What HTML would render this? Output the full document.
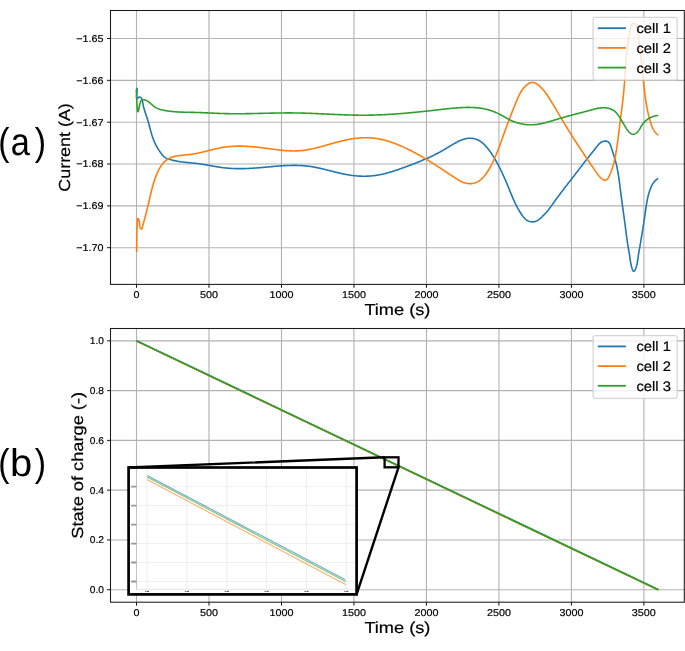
<!DOCTYPE html>
<html><head><meta charset="utf-8"><style>
html,body{margin:0;padding:0;background:#fff;}
body{width:685px;height:651px;overflow:hidden;}
svg{display:block;}
text{font-family:"Liberation Sans", sans-serif;fill:#000;text-rendering:geometricPrecision;}
.tk{font-size:9.9px;stroke:#000;stroke-width:0.18px;}
.al{font-size:16px;stroke:#000;stroke-width:0.2px;}
.lg{font-size:13.8px;stroke:#000;stroke-width:0.2px;}
.pl{font-size:38.5px;}
</style></head><body>
<svg width="685" height="651" viewBox="0 0 685 651" style="will-change:transform">
<rect width="685" height="651" fill="#fff"/>
<path d="M136.50,10.50V284.40 M208.99,10.50V284.40 M281.47,10.50V284.40 M353.95,10.50V284.40 M426.44,10.50V284.40 M498.92,10.50V284.40 M571.41,10.50V284.40 M643.89,10.50V284.40 M110.50,38.50H684.30 M110.50,80.35H684.30 M110.50,122.20H684.30 M110.50,164.00H684.30 M110.50,205.90H684.30 M110.50,247.70H684.30" stroke="#b2b2b2" stroke-width="1.1" fill="none"/>
<g fill="none" stroke-width="1.60" stroke-linejoin="round" stroke-linecap="butt">
<path d="M136.50,88.20 136.99,88.18 137.12,88.77 137.15,89.37 137.14,89.96 137.11,90.56 137.06,91.16 137.01,91.76 136.96,92.36 136.90,92.95 136.85,93.55 136.79,94.15 136.73,94.75 136.68,95.34 136.64,95.94 136.61,96.54 136.59,97.14 136.60,97.74 136.69,98.33 137.08,98.67 137.53,98.29 137.94,97.85 138.39,97.45 138.92,97.18 139.52,97.11 140.10,97.23 140.64,97.49 141.10,97.88 141.47,98.35 141.76,98.87 142.00,99.42 142.18,99.99 142.34,100.57 142.47,101.16 142.59,101.74 142.69,102.34 142.79,102.93 142.89,103.52 142.99,104.11 143.11,104.70 143.22,105.29 143.35,105.87 143.48,106.46 143.63,107.04 143.77,107.62 143.93,108.20 144.09,108.78 144.26,109.35 144.43,109.93 144.60,110.50 144.78,111.07 144.97,111.64 145.16,112.21 145.35,112.78 145.54,113.35 145.73,113.92 145.93,114.49 146.12,115.05 146.32,115.62 146.51,116.19 146.70,116.76 146.89,117.33 147.07,117.90 147.25,118.47 147.43,119.04 147.60,119.62 147.77,120.19 147.94,120.77 148.11,121.34 148.27,121.92 148.43,122.50 148.59,123.08 148.75,123.65 148.90,124.23 149.06,124.81 149.21,125.39 149.36,125.97 149.52,126.55 149.67,127.13 149.83,127.71 149.98,128.29 150.14,128.87 150.29,129.45 150.45,130.03 150.61,130.61 150.77,131.18 150.93,131.76 151.09,132.34 151.26,132.91 151.43,133.49 151.60,134.06 151.78,134.64 151.95,135.21 152.14,135.78 152.32,136.35 152.51,136.92 152.71,137.49 152.91,138.05 153.11,138.62 153.32,139.18 153.53,139.74 153.75,140.30 153.98,140.85 154.21,141.41 154.45,141.96 154.69,142.51 154.94,143.05 155.20,143.59 155.46,144.13 155.72,144.67 156.00,145.20 156.27,145.74 156.56,146.26 156.85,146.79 157.14,147.31 157.44,147.83 157.75,148.35 158.06,148.86 158.38,149.37 158.70,149.87 159.03,150.38 159.36,150.87 159.70,151.37 160.04,151.86 160.39,152.35 160.74,152.84 161.10,153.32 161.46,153.79 161.83,154.26 162.22,154.73 162.61,155.18 163.02,155.62 163.44,156.04 163.88,156.45 164.34,156.84 164.81,157.20 165.31,157.54 165.82,157.85 166.35,158.14 166.89,158.40 167.44,158.63 168.00,158.85 168.56,159.05 169.13,159.24 169.71,159.42 170.28,159.59 170.86,159.76 171.43,159.92 172.01,160.07 172.60,160.22 173.18,160.36 173.76,160.50 174.35,160.63 174.93,160.76 175.52,160.88 176.11,161.00 176.70,161.11 177.29,161.22 177.88,161.32 178.47,161.42 179.06,161.51 179.66,161.60 180.25,161.69 180.84,161.77 181.44,161.86 182.03,161.93 182.63,162.01 183.22,162.08 183.82,162.15 184.41,162.22 185.01,162.29 185.61,162.35 186.20,162.41 186.80,162.47 187.39,162.53 187.99,162.59 188.59,162.65 189.19,162.71 189.78,162.76 190.38,162.82 190.98,162.88 191.57,162.93 192.17,162.99 192.77,163.05 193.36,163.11 193.96,163.17 194.56,163.23 195.15,163.29 195.75,163.35 196.35,163.42 196.94,163.49 197.54,163.55 198.13,163.63 198.73,163.70 199.32,163.78 199.92,163.86 200.51,163.94 201.11,164.02 201.70,164.11 202.29,164.20 202.88,164.30 203.48,164.39 204.07,164.49 204.66,164.59 205.25,164.69 205.84,164.79 206.43,164.90 207.02,165.00 207.61,165.11 208.20,165.22 208.79,165.32 209.38,165.43 209.97,165.54 210.56,165.65 211.15,165.76 211.74,165.87 212.33,165.98 212.92,166.08 213.51,166.19 214.10,166.30 214.69,166.40 215.28,166.51 215.87,166.61 216.46,166.71 217.05,166.81 217.65,166.91 218.24,167.00 218.83,167.10 219.42,167.19 220.02,167.28 220.61,167.36 221.20,167.44 221.80,167.52 222.39,167.60 222.99,167.67 223.58,167.75 224.18,167.81 224.78,167.88 225.37,167.94 225.97,168.00 226.57,168.06 227.16,168.12 227.76,168.17 228.36,168.22 228.96,168.27 229.55,168.31 230.15,168.35 230.75,168.39 231.35,168.43 231.95,168.46 232.55,168.50 233.15,168.52 233.74,168.55 234.34,168.57 234.94,168.60 235.54,168.61 236.14,168.63 236.74,168.64 237.34,168.66 237.94,168.66 238.54,168.67 239.14,168.67 239.74,168.68 240.34,168.67 240.94,168.67 241.54,168.67 242.14,168.66 242.74,168.65 243.34,168.64 243.94,168.62 244.54,168.60 245.14,168.59 245.74,168.57 246.34,168.54 246.93,168.52 247.53,168.49 248.13,168.47 248.73,168.44 249.33,168.41 249.93,168.37 250.53,168.34 251.13,168.31 251.73,168.27 252.32,168.23 252.92,168.19 253.52,168.15 254.12,168.11 254.72,168.07 255.31,168.02 255.91,167.98 256.51,167.93 257.11,167.89 257.71,167.84 258.30,167.79 258.90,167.74 259.50,167.69 260.10,167.64 260.69,167.59 261.29,167.54 261.89,167.49 262.49,167.43 263.08,167.38 263.68,167.33 264.28,167.27 264.88,167.22 265.47,167.17 266.07,167.11 266.67,167.06 267.27,167.01 267.86,166.95 268.46,166.90 269.06,166.84 269.65,166.79 270.25,166.74 270.85,166.68 271.45,166.63 272.04,166.58 272.64,166.53 273.24,166.47 273.84,166.42 274.43,166.37 275.03,166.32 275.63,166.27 276.23,166.23 276.82,166.18 277.42,166.13 278.02,166.09 278.62,166.04 279.22,166.00 279.81,165.95 280.41,165.91 281.01,165.87 281.61,165.83 282.21,165.80 282.81,165.76 283.41,165.72 284.00,165.69 284.60,165.66 285.20,165.63 285.80,165.60 286.40,165.57 287.00,165.54 287.60,165.52 288.20,165.50 288.80,165.48 289.40,165.46 290.00,165.44 290.60,165.43 291.20,165.42 291.79,165.41 292.39,165.40 292.99,165.39 293.59,165.39 294.19,165.39 294.79,165.39 295.39,165.40 295.99,165.40 296.59,165.41 297.19,165.42 297.79,165.44 298.39,165.46 298.99,165.48 299.59,165.50 300.19,165.53 300.79,165.55 301.39,165.59 301.99,165.62 302.58,165.66 303.18,165.70 303.78,165.75 304.38,165.79 304.98,165.85 305.57,165.90 306.17,165.96 306.77,166.02 307.36,166.09 307.96,166.16 308.55,166.23 309.15,166.30 309.74,166.38 310.34,166.47 310.93,166.56 311.52,166.65 312.11,166.74 312.71,166.84 313.30,166.94 313.89,167.04 314.48,167.15 315.07,167.26 315.66,167.38 316.24,167.49 316.83,167.61 317.42,167.73 318.01,167.85 318.59,167.98 319.18,168.11 319.76,168.24 320.35,168.37 320.93,168.50 321.52,168.64 322.10,168.77 322.69,168.91 323.27,169.05 323.85,169.19 324.43,169.33 325.02,169.48 325.60,169.62 326.18,169.76 326.76,169.91 327.34,170.06 327.93,170.20 328.51,170.35 329.09,170.50 329.67,170.65 330.25,170.79 330.83,170.94 331.41,171.09 331.99,171.24 332.58,171.38 333.16,171.53 333.74,171.68 334.32,171.82 334.90,171.97 335.48,172.11 336.07,172.26 336.65,172.40 337.23,172.54 337.81,172.68 338.40,172.82 338.98,172.96 339.57,173.10 340.15,173.23 340.73,173.36 341.32,173.50 341.91,173.62 342.49,173.75 343.08,173.88 343.66,174.00 344.25,174.12 344.84,174.24 345.43,174.35 346.02,174.47 346.61,174.58 347.20,174.68 347.79,174.79 348.38,174.89 348.97,174.99 349.56,175.08 350.16,175.17 350.75,175.26 351.34,175.34 351.94,175.42 352.53,175.50 353.13,175.57 353.72,175.64 354.32,175.71 354.92,175.77 355.51,175.82 356.11,175.88 356.71,175.93 357.31,175.97 357.90,176.02 358.50,176.06 359.10,176.09 359.70,176.12 360.30,176.15 360.90,176.17 361.50,176.19 362.10,176.20 362.70,176.21 363.30,176.22 363.90,176.22 364.50,176.22 365.10,176.21 365.70,176.20 366.29,176.19 366.89,176.17 367.49,176.15 368.09,176.12 368.69,176.09 369.29,176.06 369.89,176.02 370.49,175.98 371.08,175.93 371.68,175.88 372.28,175.82 372.88,175.76 373.47,175.69 374.07,175.63 374.66,175.55 375.26,175.47 375.85,175.39 376.44,175.31 377.04,175.22 377.63,175.12 378.22,175.02 378.81,174.92 379.40,174.81 379.99,174.70 380.58,174.58 381.17,174.46 381.75,174.33 382.34,174.21 382.92,174.07 383.51,173.94 384.09,173.80 384.67,173.65 385.25,173.51 385.83,173.36 386.41,173.20 386.99,173.05 387.57,172.89 388.15,172.72 388.73,172.56 389.30,172.39 389.88,172.22 390.45,172.05 391.02,171.87 391.60,171.70 392.17,171.52 392.74,171.34 393.31,171.16 393.88,170.97 394.45,170.78 395.02,170.60 395.59,170.41 396.16,170.22 396.73,170.02 397.30,169.83 397.86,169.64 398.43,169.44 399.00,169.24 399.56,169.05 400.13,168.85 400.69,168.65 401.26,168.45 401.83,168.25 402.39,168.05 402.96,167.85 403.52,167.65 404.08,167.44 404.65,167.24 405.21,167.03 405.78,166.83 406.34,166.62 406.90,166.42 407.46,166.21 408.03,166.00 408.59,165.79 409.15,165.58 409.71,165.37 410.27,165.16 410.83,164.95 411.39,164.73 411.95,164.52 412.51,164.30 413.07,164.09 413.63,163.87 414.19,163.65 414.75,163.44 415.31,163.22 415.87,163.00 416.42,162.78 416.98,162.56 417.54,162.33 418.10,162.11 418.65,161.89 419.21,161.66 419.76,161.43 420.32,161.21 420.87,160.98 421.43,160.75 421.98,160.52 422.53,160.29 423.09,160.06 423.64,159.83 424.19,159.59 424.74,159.36 425.30,159.12 425.85,158.88 426.40,158.64 426.94,158.40 427.49,158.16 428.04,157.92 428.59,157.67 429.13,157.42 429.68,157.17 430.23,156.92 430.77,156.67 431.31,156.42 431.86,156.16 432.40,155.91 432.94,155.65 433.48,155.38 434.02,155.12 434.55,154.86 435.09,154.59 435.63,154.32 436.16,154.05 436.69,153.77 437.23,153.50 437.76,153.22 438.29,152.94 438.82,152.65 439.34,152.37 439.87,152.08 440.39,151.79 440.92,151.49 441.44,151.20 441.96,150.90 442.48,150.60 442.99,150.30 443.51,149.99 444.03,149.69 444.54,149.38 445.06,149.07 445.57,148.76 446.09,148.46 446.60,148.15 447.11,147.84 447.63,147.53 448.14,147.22 448.65,146.91 449.17,146.60 449.68,146.29 450.20,145.98 450.71,145.68 451.23,145.37 451.75,145.07 452.26,144.76 452.78,144.46 453.30,144.16 453.82,143.87 454.34,143.57 454.87,143.28 455.39,142.99 455.92,142.70 456.45,142.42 456.98,142.14 457.51,141.86 458.05,141.59 458.58,141.33 459.13,141.07 459.67,140.82 460.22,140.57 460.77,140.33 461.32,140.11 461.88,139.89 462.44,139.68 463.01,139.48 463.58,139.29 464.15,139.11 464.73,138.95 465.31,138.80 465.89,138.67 466.48,138.55 467.07,138.45 467.67,138.36 468.26,138.29 468.86,138.24 469.46,138.21 470.06,138.20 470.66,138.21 471.26,138.24 471.85,138.29 472.45,138.36 473.04,138.45 473.63,138.56 474.22,138.69 474.80,138.84 475.37,139.01 475.94,139.20 476.51,139.40 477.07,139.62 477.62,139.85 478.16,140.10 478.70,140.37 479.22,140.66 479.74,140.96 480.25,141.28 480.75,141.61 481.24,141.95 481.72,142.31 482.19,142.68 482.66,143.07 483.11,143.46 483.55,143.86 483.99,144.27 484.42,144.69 484.84,145.12 485.25,145.56 485.66,146.00 486.06,146.45 486.45,146.90 486.84,147.35 487.22,147.81 487.60,148.28 487.98,148.74 488.35,149.21 488.72,149.69 489.09,150.16 489.44,150.64 489.80,151.13 490.15,151.61 490.50,152.10 490.85,152.59 491.19,153.08 491.52,153.58 491.86,154.08 492.19,154.58 492.52,155.08 492.84,155.59 493.16,156.09 493.48,156.60 493.79,157.11 494.11,157.62 494.42,158.14 494.72,158.65 495.02,159.17 495.33,159.69 495.62,160.21 495.92,160.73 496.21,161.25 496.50,161.78 496.79,162.30 497.08,162.83 497.37,163.36 497.65,163.89 497.93,164.42 498.21,164.95 498.49,165.48 498.76,166.01 499.03,166.54 499.31,167.08 499.58,167.61 499.85,168.15 500.12,168.69 500.38,169.22 500.65,169.76 500.91,170.30 501.17,170.84 501.43,171.38 501.69,171.92 501.95,172.46 502.21,173.00 502.46,173.55 502.72,174.09 502.97,174.63 503.22,175.18 503.47,175.72 503.72,176.27 503.97,176.81 504.21,177.36 504.46,177.91 504.70,178.46 504.94,179.01 505.18,179.55 505.42,180.10 505.66,180.65 505.90,181.21 506.14,181.76 506.37,182.31 506.61,182.86 506.84,183.41 507.07,183.97 507.30,184.52 507.53,185.07 507.76,185.63 507.99,186.18 508.21,186.74 508.44,187.29 508.66,187.85 508.89,188.41 509.11,188.96 509.34,189.52 509.56,190.07 509.79,190.63 510.01,191.19 510.23,191.74 510.46,192.30 510.69,192.85 510.91,193.41 511.14,193.97 511.37,194.52 511.59,195.07 511.82,195.63 512.05,196.18 512.29,196.73 512.52,197.29 512.76,197.84 512.99,198.39 513.23,198.94 513.47,199.49 513.71,200.04 513.96,200.58 514.21,201.13 514.46,201.68 514.71,202.22 514.96,202.76 515.22,203.30 515.48,203.84 515.75,204.38 516.01,204.92 516.28,205.46 516.56,205.99 516.83,206.52 517.11,207.05 517.40,207.58 517.69,208.11 517.98,208.63 518.27,209.15 518.57,209.67 518.88,210.19 519.18,210.70 519.49,211.22 519.81,211.73 520.13,212.23 520.45,212.74 520.78,213.24 521.12,213.74 521.45,214.23 521.80,214.73 522.14,215.21 522.49,215.70 522.85,216.18 523.22,216.66 523.60,217.12 523.98,217.58 524.38,218.03 524.80,218.46 525.23,218.88 525.67,219.28 526.14,219.66 526.62,220.02 527.12,220.35 527.64,220.65 528.17,220.92 528.73,221.15 529.29,221.35 529.87,221.51 530.45,221.64 531.05,221.74 531.64,221.81 532.24,221.84 532.84,221.84 533.44,221.81 534.03,221.74 534.63,221.64 535.21,221.50 535.78,221.32 536.34,221.11 536.89,220.86 537.42,220.58 537.93,220.27 538.43,219.94 538.92,219.59 539.39,219.22 539.85,218.84 540.31,218.45 540.75,218.04 541.18,217.63 541.61,217.21 542.04,216.79 542.46,216.36 542.89,215.94 543.31,215.51 543.73,215.09 544.15,214.66 544.57,214.23 544.99,213.80 545.40,213.37 545.81,212.93 546.22,212.49 546.62,212.04 547.02,211.60 547.41,211.14 547.80,210.69 548.18,210.22 548.56,209.75 548.92,209.28 549.29,208.80 549.64,208.32 550.00,207.84 550.34,207.35 550.69,206.86 551.04,206.37 551.38,205.88 551.73,205.39 552.07,204.90 552.42,204.41 552.77,203.92 553.12,203.43 553.46,202.94 553.81,202.46 554.16,201.97 554.51,201.48 554.86,201.00 555.22,200.51 555.57,200.02 555.92,199.54 556.27,199.05 556.63,198.57 556.98,198.09 557.34,197.60 557.69,197.12 558.05,196.64 558.41,196.16 558.77,195.68 559.12,195.19 559.48,194.71 559.84,194.23 560.20,193.76 560.56,193.28 560.92,192.80 561.29,192.32 561.65,191.84 562.01,191.36 562.38,190.89 562.74,190.41 563.10,189.93 563.47,189.46 563.83,188.98 564.20,188.51 564.57,188.03 564.93,187.56 565.30,187.08 565.66,186.61 566.03,186.13 566.40,185.66 566.77,185.19 567.13,184.71 567.50,184.24 567.87,183.76 568.24,183.29 568.60,182.82 568.97,182.34 569.34,181.87 569.71,181.40 570.08,180.92 570.44,180.45 570.81,179.98 571.18,179.50 571.55,179.03 571.92,178.55 572.28,178.08 572.65,177.61 573.02,177.13 573.38,176.66 573.75,176.18 574.12,175.71 574.48,175.23 574.85,174.76 575.21,174.28 575.58,173.80 575.94,173.33 576.31,172.85 576.67,172.38 577.04,171.90 577.40,171.42 577.76,170.95 578.13,170.47 578.49,169.99 578.86,169.52 579.22,169.04 579.58,168.56 579.95,168.09 580.31,167.61 580.68,167.13 581.04,166.66 581.41,166.18 581.77,165.71 582.14,165.23 582.50,164.76 582.87,164.28 583.23,163.81 583.60,163.33 583.97,162.86 584.34,162.38 584.70,161.91 585.07,161.44 585.44,160.97 585.81,160.49 586.18,160.02 586.55,159.55 586.93,159.08 587.30,158.61 587.67,158.14 588.05,157.67 588.42,157.20 588.79,156.74 589.17,156.27 589.54,155.80 589.92,155.33 590.30,154.86 590.67,154.40 591.05,153.93 591.42,153.46 591.80,152.99 592.17,152.53 592.55,152.06 592.92,151.59 593.30,151.12 593.67,150.65 594.04,150.18 594.41,149.71 594.79,149.24 595.16,148.77 595.53,148.30 595.89,147.82 596.26,147.35 596.63,146.88 597.00,146.40 597.37,145.93 597.75,145.47 598.14,145.01 598.53,144.56 598.95,144.13 599.37,143.71 599.82,143.30 600.28,142.92 600.77,142.57 601.28,142.25 601.80,141.97 602.35,141.72 602.91,141.51 603.49,141.34 604.07,141.22 604.67,141.13 605.26,141.10 605.86,141.11 606.46,141.18 607.04,141.33 607.60,141.55 608.12,141.84 608.59,142.22 609.01,142.64 609.38,143.11 609.71,143.61 610.01,144.13 610.27,144.67 610.51,145.22 610.73,145.78 610.94,146.34 611.13,146.91 611.31,147.48 611.49,148.05 611.67,148.63 611.85,149.20 612.02,149.77 612.20,150.35 612.38,150.92 612.56,151.49 612.75,152.06 612.93,152.63 613.11,153.20 613.29,153.77 613.48,154.35 613.66,154.92 613.84,155.49 614.02,156.06 614.20,156.63 614.37,157.21 614.55,157.78 614.72,158.35 614.90,158.93 615.06,159.50 615.23,160.08 615.39,160.66 615.55,161.23 615.71,161.81 615.86,162.39 616.01,162.97 616.16,163.56 616.30,164.14 616.44,164.72 616.57,165.31 616.70,165.89 616.83,166.48 616.96,167.06 617.08,167.65 617.20,168.24 617.32,168.83 617.43,169.42 617.54,170.01 617.65,170.59 617.76,171.18 617.86,171.78 617.97,172.37 618.07,172.96 618.16,173.55 618.26,174.14 618.35,174.73 618.45,175.33 618.54,175.92 618.63,176.51 618.71,177.10 618.80,177.70 618.89,178.29 618.97,178.89 619.05,179.48 619.13,180.07 619.21,180.67 619.29,181.26 619.37,181.86 619.45,182.45 619.52,183.05 619.60,183.64 619.68,184.24 619.75,184.83 619.83,185.43 619.90,186.02 619.98,186.62 620.05,187.21 620.12,187.81 620.20,188.40 620.27,189.00 620.35,189.59 620.42,190.19 620.50,190.78 620.57,191.38 620.65,191.97 620.73,192.57 620.80,193.16 620.88,193.76 620.96,194.35 621.03,194.95 621.11,195.54 621.19,196.13 621.27,196.73 621.35,197.32 621.43,197.92 621.51,198.51 621.59,199.11 621.67,199.70 621.75,200.30 621.83,200.89 621.91,201.48 621.99,202.08 622.07,202.67 622.15,203.27 622.23,203.86 622.31,204.46 622.39,205.05 622.47,205.64 622.56,206.24 622.64,206.83 622.72,207.43 622.80,208.02 622.88,208.61 622.96,209.21 623.05,209.80 623.13,210.40 623.21,210.99 623.29,211.58 623.37,212.18 623.45,212.77 623.54,213.37 623.62,213.96 623.70,214.56 623.78,215.15 623.86,215.74 623.94,216.34 624.03,216.93 624.11,217.53 624.19,218.12 624.27,218.71 624.35,219.31 624.43,219.90 624.51,220.50 624.59,221.09 624.67,221.69 624.75,222.28 624.83,222.87 624.91,223.47 624.99,224.06 625.07,224.66 625.15,225.25 625.22,225.85 625.30,226.44 625.38,227.04 625.46,227.63 625.53,228.23 625.61,228.82 625.69,229.42 625.76,230.01 625.84,230.60 625.91,231.20 625.99,231.79 626.07,232.39 626.14,232.98 626.22,233.58 626.29,234.17 626.37,234.77 626.45,235.36 626.52,235.96 626.60,236.55 626.68,237.15 626.76,237.74 626.84,238.34 626.92,238.93 627.00,239.52 627.09,240.12 627.17,240.71 627.25,241.31 627.34,241.90 627.43,242.49 627.52,243.09 627.60,243.68 627.70,244.27 627.79,244.86 627.88,245.46 627.98,246.05 628.08,246.64 628.18,247.23 628.28,247.82 628.38,248.41 628.48,249.00 628.59,249.59 628.69,250.19 628.80,250.78 628.91,251.37 629.01,251.96 629.11,252.55 629.22,253.14 629.32,253.73 629.42,254.32 629.51,254.91 629.61,255.50 629.70,256.10 629.78,256.69 629.86,257.29 629.94,257.88 630.01,258.47 630.09,259.07 630.17,259.66 630.25,260.26 630.34,260.85 630.43,261.44 630.52,262.04 630.63,262.63 630.74,263.22 630.85,263.81 630.98,264.39 631.11,264.98 631.25,265.56 631.39,266.14 631.54,266.72 631.70,267.30 631.87,267.88 632.04,268.45 632.24,269.02 632.45,269.58 632.69,270.13 632.98,270.65 633.37,271.11 633.92,271.26 634.40,270.92 634.76,270.44 635.05,269.91 635.31,269.37 635.55,268.82 635.77,268.26 635.98,267.70 636.17,267.13 636.36,266.56 636.53,265.99 636.70,265.41 636.85,264.83 636.99,264.25 637.12,263.66 637.24,263.08 637.35,262.49 637.45,261.90 637.54,261.30 637.62,260.71 637.70,260.11 637.78,259.52 637.85,258.92 637.93,258.33 638.01,257.74 638.09,257.14 638.18,256.55 638.27,255.96 638.36,255.36 638.45,254.77 638.55,254.18 638.65,253.59 638.75,253.00 638.85,252.40 638.95,251.81 639.05,251.22 639.16,250.63 639.26,250.04 639.36,249.45 639.47,248.86 639.57,248.27 639.68,247.68 639.78,247.09 639.89,246.50 639.99,245.91 640.09,245.32 640.19,244.73 640.30,244.13 640.40,243.54 640.50,242.95 640.60,242.36 640.70,241.77 640.80,241.18 640.90,240.59 641.00,240.00 641.10,239.40 641.20,238.81 641.30,238.22 641.40,237.63 641.49,237.04 641.59,236.45 641.69,235.85 641.79,235.26 641.88,234.67 641.98,234.08 642.07,233.49 642.17,232.89 642.27,232.30 642.36,231.71 642.45,231.12 642.55,230.53 642.64,229.93 642.74,229.34 642.83,228.75 642.92,228.16 643.02,227.56 643.11,226.97 643.20,226.38 643.29,225.79 643.38,225.19 643.47,224.60 643.57,224.01 643.66,223.42 643.75,222.82 643.84,222.23 643.93,221.64 644.02,221.04 644.11,220.45 644.20,219.86 644.28,219.27 644.37,218.67 644.46,218.08 644.55,217.49 644.64,216.89 644.73,216.30 644.81,215.71 644.90,215.11 644.99,214.52 645.07,213.93 645.16,213.33 645.25,212.74 645.33,212.15 645.42,211.55 645.51,210.96 645.59,210.37 645.68,209.77 645.76,209.18 645.85,208.58 645.94,207.99 646.02,207.40 646.11,206.80 646.20,206.21 646.29,205.62 646.38,205.03 646.48,204.43 646.57,203.84 646.67,203.25 646.77,202.66 646.87,202.07 646.98,201.48 647.09,200.89 647.20,200.30 647.32,199.71 647.43,199.12 647.56,198.54 647.68,197.95 647.81,197.36 647.95,196.78 648.09,196.20 648.23,195.61 648.38,195.03 648.54,194.45 648.69,193.88 648.86,193.30 649.03,192.72 649.21,192.15 649.39,191.58 649.58,191.01 649.77,190.44 649.97,189.88 650.18,189.32 650.40,188.76 650.62,188.20 650.85,187.65 651.08,187.09 651.33,186.55 651.58,186.00 651.85,185.47 652.13,184.93 652.42,184.41 652.72,183.89 653.04,183.38 653.37,182.88 653.72,182.40 654.09,181.92 654.47,181.46 654.88,181.02 655.30,180.59 655.74,180.19 656.20,179.80 656.68,179.44 657.17,179.10 657.68,178.78 658.21,178.50" stroke="#1f77b4"/>
<path d="M136.60,252.00 136.62,251.40 136.64,250.80 136.66,250.20 136.67,249.60 136.69,249.00 136.70,248.40 136.71,247.80 136.73,247.20 136.74,246.60 136.75,246.00 136.76,245.40 136.76,244.80 136.77,244.20 136.78,243.60 136.78,243.00 136.79,242.41 136.80,241.81 136.80,241.21 136.81,240.61 136.81,240.01 136.82,239.41 136.82,238.81 136.83,238.21 136.84,237.61 136.84,237.01 136.85,236.41 136.86,235.81 136.87,235.21 136.88,234.61 136.89,234.01 136.90,233.41 136.91,232.81 136.93,232.21 136.94,231.61 136.96,231.01 136.98,230.41 137.00,229.81 137.02,229.21 137.04,228.61 137.07,228.01 137.09,227.41 137.12,226.82 137.15,226.22 137.19,225.62 137.22,225.02 137.26,224.42 137.30,223.82 137.34,223.22 137.39,222.63 137.43,222.03 137.48,221.43 137.54,220.83 137.59,220.24 137.65,219.64 137.72,219.04 137.83,218.45 138.24,218.51 138.54,219.03 138.79,219.58 139.00,220.14 139.17,220.72 139.31,221.30 139.42,221.89 139.50,222.49 139.56,223.08 139.62,223.68 139.66,224.28 139.71,224.88 139.76,225.47 139.83,226.07 139.92,226.66 140.04,227.25 140.23,227.82 140.50,228.36 140.88,228.81 141.42,229.07 141.86,228.73 142.06,228.16 142.23,227.58 142.39,227.01 142.56,226.43 142.72,225.85 142.88,225.28 143.04,224.70 143.20,224.12 143.36,223.54 143.52,222.96 143.68,222.38 143.83,221.81 143.99,221.23 144.15,220.65 144.30,220.07 144.46,219.49 144.61,218.91 144.76,218.33 144.92,217.75 145.07,217.17 145.22,216.59 145.37,216.01 145.52,215.43 145.67,214.85 145.82,214.26 145.97,213.68 146.11,213.10 146.26,212.52 146.41,211.94 146.55,211.36 146.70,210.78 146.84,210.19 146.99,209.61 147.13,209.03 147.28,208.45 147.42,207.86 147.56,207.28 147.70,206.70 147.85,206.12 147.99,205.53 148.13,204.95 148.27,204.37 148.41,203.78 148.55,203.20 148.68,202.62 148.82,202.03 148.96,201.45 149.10,200.87 149.24,200.28 149.37,199.70 149.51,199.11 149.64,198.53 149.78,197.94 149.92,197.36 150.05,196.78 150.19,196.19 150.33,195.61 150.46,195.02 150.60,194.44 150.74,193.86 150.88,193.27 151.02,192.69 151.16,192.11 151.30,191.53 151.45,190.94 151.59,190.36 151.74,189.78 151.89,189.20 152.04,188.62 152.19,188.04 152.35,187.46 152.50,186.88 152.66,186.30 152.82,185.72 152.98,185.15 153.15,184.57 153.32,183.99 153.49,183.42 153.66,182.85 153.84,182.27 154.02,181.70 154.20,181.13 154.39,180.56 154.58,179.99 154.77,179.42 154.97,178.85 155.17,178.29 155.37,177.73 155.58,177.16 155.79,176.60 156.01,176.04 156.23,175.48 156.45,174.93 156.68,174.37 156.91,173.82 157.15,173.27 157.39,172.72 157.63,172.17 157.88,171.63 158.14,171.08 158.41,170.55 158.68,170.01 158.95,169.48 159.23,168.95 159.53,168.42 159.82,167.90 160.13,167.39 160.44,166.88 160.76,166.37 161.09,165.87 161.43,165.38 161.78,164.89 162.14,164.41 162.51,163.93 162.89,163.47 163.28,163.01 163.68,162.57 164.09,162.13 164.51,161.71 164.95,161.29 165.39,160.89 165.85,160.50 166.32,160.13 166.80,159.77 167.29,159.42 167.79,159.10 168.31,158.78 168.83,158.49 169.36,158.22 169.90,157.96 170.45,157.72 171.01,157.49 171.57,157.29 172.14,157.09 172.71,156.91 173.29,156.74 173.87,156.59 174.45,156.44 175.03,156.31 175.62,156.18 176.21,156.07 176.80,155.96 177.39,155.86 177.98,155.76 178.58,155.68 179.17,155.60 179.76,155.52 180.36,155.45 180.96,155.38 181.55,155.31 182.15,155.25 182.75,155.19 183.34,155.13 183.94,155.07 184.54,155.02 185.13,154.96 185.73,154.90 186.33,154.84 186.92,154.78 187.52,154.72 188.12,154.66 188.71,154.59 189.31,154.52 189.90,154.44 190.50,154.37 191.09,154.29 191.69,154.21 192.28,154.12 192.87,154.03 193.47,153.94 194.06,153.85 194.65,153.75 195.24,153.65 195.83,153.54 196.42,153.44 197.01,153.32 197.60,153.21 198.19,153.09 198.78,152.97 199.36,152.85 199.95,152.72 200.53,152.59 201.12,152.46 201.70,152.32 202.29,152.18 202.87,152.04 203.45,151.90 204.04,151.75 204.62,151.61 205.20,151.46 205.78,151.31 206.36,151.16 206.94,151.01 207.52,150.86 208.10,150.71 208.68,150.56 209.26,150.41 209.84,150.26 210.42,150.11 211.01,149.96 211.59,149.81 212.17,149.67 212.75,149.52 213.33,149.37 213.91,149.23 214.50,149.09 215.08,148.95 215.66,148.81 216.25,148.68 216.83,148.54 217.42,148.41 218.01,148.29 218.59,148.16 219.18,148.04 219.77,147.93 220.36,147.81 220.95,147.71 221.54,147.60 222.13,147.50 222.72,147.40 223.31,147.31 223.91,147.22 224.50,147.13 225.09,147.05 225.69,146.97 226.28,146.90 226.88,146.83 227.48,146.76 228.07,146.70 228.67,146.64 229.27,146.58 229.86,146.53 230.46,146.48 231.06,146.43 231.66,146.39 232.26,146.35 232.85,146.31 233.45,146.28 234.05,146.25 234.65,146.23 235.25,146.20 235.85,146.18 236.45,146.17 237.05,146.15 237.65,146.14 238.25,146.14 238.85,146.13 239.45,146.13 240.05,146.13 240.65,146.14 241.25,146.14 241.85,146.15 242.45,146.17 243.05,146.18 243.65,146.20 244.25,146.22 244.85,146.24 245.44,146.27 246.04,146.30 246.64,146.33 247.24,146.36 247.84,146.39 248.44,146.43 249.04,146.47 249.64,146.51 250.23,146.56 250.83,146.60 251.43,146.65 252.03,146.70 252.63,146.75 253.22,146.80 253.82,146.86 254.42,146.91 255.01,146.97 255.61,147.03 256.21,147.09 256.80,147.16 257.40,147.22 258.00,147.29 258.59,147.36 259.19,147.43 259.78,147.50 260.38,147.57 260.97,147.64 261.57,147.71 262.16,147.79 262.76,147.87 263.35,147.94 263.95,148.02 264.54,148.10 265.14,148.18 265.73,148.26 266.33,148.34 266.92,148.42 267.52,148.50 268.11,148.58 268.70,148.66 269.30,148.74 269.89,148.82 270.49,148.90 271.08,148.98 271.68,149.06 272.27,149.14 272.87,149.22 273.46,149.30 274.05,149.38 274.65,149.45 275.24,149.53 275.84,149.60 276.44,149.68 277.03,149.75 277.63,149.82 278.22,149.89 278.82,149.96 279.41,150.03 280.01,150.09 280.61,150.16 281.20,150.22 281.80,150.28 282.40,150.34 282.99,150.39 283.59,150.45 284.19,150.50 284.79,150.55 285.38,150.59 285.98,150.64 286.58,150.68 287.18,150.72 287.78,150.76 288.38,150.79 288.98,150.82 289.58,150.84 290.17,150.87 290.77,150.89 291.37,150.91 291.97,150.92 292.57,150.93 293.17,150.93 293.77,150.94 294.37,150.93 294.97,150.93 295.57,150.92 296.17,150.90 296.77,150.88 297.37,150.86 297.97,150.83 298.57,150.80 299.17,150.76 299.77,150.72 300.36,150.67 300.96,150.62 301.56,150.56 302.15,150.50 302.75,150.43 303.35,150.36 303.94,150.29 304.54,150.21 305.13,150.12 305.72,150.03 306.31,149.94 306.91,149.84 307.50,149.75 308.09,149.64 308.68,149.53 309.27,149.42 309.86,149.31 310.45,149.19 311.03,149.07 311.62,148.95 312.21,148.82 312.79,148.70 313.38,148.56 313.96,148.43 314.55,148.29 315.13,148.16 315.71,148.01 316.30,147.87 316.88,147.73 317.46,147.58 318.04,147.43 318.62,147.28 319.20,147.13 319.78,146.97 320.36,146.82 320.94,146.66 321.52,146.50 322.10,146.35 322.67,146.19 323.25,146.02 323.83,145.86 324.41,145.70 324.98,145.54 325.56,145.37 326.14,145.21 326.72,145.05 327.29,144.88 327.87,144.72 328.45,144.55 329.02,144.39 329.60,144.22 330.18,144.06 330.75,143.89 331.33,143.73 331.91,143.56 332.48,143.40 333.06,143.24 333.64,143.08 334.22,142.92 334.79,142.76 335.37,142.60 335.95,142.44 336.53,142.28 337.11,142.13 337.69,141.97 338.27,141.82 338.85,141.67 339.43,141.52 340.01,141.37 340.59,141.23 341.18,141.08 341.76,140.94 342.34,140.80 342.93,140.67 343.51,140.53 344.10,140.40 344.68,140.27 345.27,140.14 345.85,140.01 346.44,139.89 347.03,139.77 347.62,139.65 348.20,139.54 348.79,139.42 349.38,139.31 349.97,139.21 350.56,139.10 351.16,139.00 351.75,138.90 352.34,138.81 352.93,138.72 353.53,138.63 354.12,138.55 354.71,138.47 355.31,138.39 355.90,138.31 356.50,138.24 357.10,138.18 357.69,138.12 358.29,138.06 358.89,138.00 359.48,137.95 360.08,137.91 360.68,137.86 361.28,137.83 361.88,137.79 362.48,137.76 363.08,137.74 363.68,137.72 364.28,137.71 364.87,137.70 365.47,137.69 366.07,137.69 366.67,137.69 367.27,137.70 367.87,137.72 368.47,137.74 369.07,137.76 369.67,137.80 370.27,137.83 370.87,137.87 371.47,137.92 372.06,137.97 372.66,138.03 373.26,138.09 373.85,138.16 374.45,138.23 375.04,138.31 375.64,138.39 376.23,138.48 376.82,138.57 377.42,138.67 378.01,138.77 378.60,138.88 379.19,138.99 379.77,139.10 380.36,139.22 380.95,139.35 381.54,139.47 382.12,139.61 382.70,139.74 383.29,139.88 383.87,140.03 384.45,140.18 385.03,140.33 385.61,140.48 386.19,140.64 386.77,140.81 387.34,140.97 387.92,141.14 388.49,141.32 389.06,141.49 389.64,141.67 390.21,141.86 390.78,142.05 391.35,142.24 391.91,142.43 392.48,142.63 393.05,142.83 393.61,143.03 394.17,143.23 394.74,143.44 395.30,143.65 395.86,143.87 396.42,144.08 396.98,144.30 397.53,144.52 398.09,144.75 398.64,144.98 399.20,145.21 399.75,145.44 400.30,145.67 400.86,145.91 401.41,146.15 401.95,146.39 402.50,146.63 403.05,146.88 403.60,147.12 404.14,147.37 404.69,147.62 405.23,147.88 405.77,148.13 406.31,148.39 406.86,148.65 407.40,148.91 407.93,149.17 408.47,149.44 409.01,149.71 409.55,149.97 410.08,150.24 410.62,150.51 411.15,150.79 411.68,151.06 412.22,151.34 412.75,151.61 413.28,151.89 413.81,152.17 414.34,152.46 414.87,152.74 415.40,153.02 415.92,153.31 416.45,153.60 416.98,153.89 417.50,154.18 418.02,154.47 418.55,154.76 419.07,155.05 419.59,155.35 420.11,155.65 420.64,155.94 421.16,156.24 421.67,156.54 422.19,156.84 422.71,157.15 423.23,157.45 423.75,157.75 424.26,158.06 424.78,158.37 425.29,158.67 425.81,158.98 426.32,159.29 426.83,159.60 427.35,159.91 427.86,160.23 428.37,160.54 428.88,160.85 429.39,161.17 429.90,161.49 430.41,161.80 430.92,162.12 431.43,162.44 431.94,162.76 432.44,163.08 432.95,163.40 433.46,163.72 433.96,164.04 434.47,164.36 434.97,164.68 435.48,165.01 435.98,165.33 436.49,165.65 436.99,165.98 437.50,166.31 438.00,166.63 438.50,166.96 439.01,167.28 439.51,167.61 440.01,167.94 440.51,168.27 441.02,168.60 441.52,168.92 442.02,169.25 442.52,169.58 443.02,169.91 443.52,170.24 444.02,170.57 444.52,170.90 445.03,171.23 445.53,171.56 446.03,171.89 446.53,172.22 447.03,172.55 447.53,172.88 448.03,173.22 448.53,173.55 449.03,173.88 449.53,174.21 450.03,174.54 450.53,174.87 451.03,175.20 451.53,175.53 452.03,175.86 452.53,176.19 453.03,176.52 453.53,176.85 454.03,177.18 454.53,177.51 455.04,177.84 455.54,178.17 456.04,178.50 456.54,178.82 457.05,179.15 457.56,179.47 458.07,179.78 458.58,180.09 459.10,180.39 459.62,180.69 460.15,180.98 460.68,181.25 461.22,181.52 461.76,181.78 462.31,182.02 462.86,182.25 463.42,182.47 463.98,182.67 464.56,182.85 465.13,183.02 465.71,183.16 466.30,183.29 466.89,183.40 467.48,183.49 468.08,183.56 468.67,183.62 469.27,183.65 469.87,183.67 470.47,183.66 471.07,183.64 471.67,183.59 472.27,183.52 472.86,183.43 473.45,183.32 474.03,183.19 474.61,183.03 475.18,182.85 475.75,182.65 476.30,182.42 476.85,182.17 477.39,181.90 477.91,181.62 478.43,181.31 478.93,180.98 479.43,180.65 479.91,180.29 480.38,179.92 480.85,179.54 481.30,179.15 481.74,178.75 482.18,178.33 482.60,177.91 483.02,177.48 483.43,177.04 483.83,176.59 484.22,176.14 484.60,175.68 484.98,175.21 485.35,174.74 485.72,174.26 486.08,173.78 486.43,173.30 486.77,172.81 487.11,172.31 487.44,171.81 487.77,171.31 488.09,170.80 488.41,170.29 488.72,169.78 489.03,169.27 489.33,168.75 489.63,168.23 489.92,167.70 490.21,167.18 490.50,166.65 490.78,166.12 491.06,165.59 491.33,165.06 491.61,164.52 491.88,163.99 492.14,163.45 492.41,162.91 492.67,162.37 492.93,161.83 493.19,161.29 493.45,160.75 493.70,160.21 493.95,159.66 494.20,159.12 494.44,158.57 494.69,158.02 494.93,157.47 495.17,156.92 495.41,156.37 495.64,155.82 495.88,155.27 496.11,154.71 496.34,154.16 496.57,153.61 496.80,153.05 497.02,152.50 497.25,151.94 497.47,151.38 497.69,150.82 497.91,150.27 498.13,149.71 498.34,149.15 498.56,148.59 498.77,148.03 498.99,147.47 499.20,146.91 499.41,146.35 499.62,145.78 499.83,145.22 500.04,144.66 500.24,144.10 500.45,143.53 500.66,142.97 500.86,142.41 501.07,141.84 501.27,141.28 501.47,140.71 501.68,140.15 501.88,139.59 502.08,139.02 502.28,138.46 502.49,137.89 502.69,137.33 502.89,136.76 503.09,136.20 503.29,135.63 503.50,135.07 503.70,134.50 503.90,133.94 504.10,133.37 504.31,132.81 504.51,132.24 504.71,131.68 504.92,131.12 505.12,130.55 505.32,129.99 505.53,129.42 505.73,128.86 505.94,128.30 506.15,127.73 506.35,127.17 506.56,126.61 506.76,126.04 506.97,125.48 507.18,124.92 507.39,124.36 507.60,123.79 507.81,123.23 508.01,122.67 508.22,122.11 508.43,121.55 508.65,120.98 508.86,120.42 509.07,119.86 509.28,119.30 509.49,118.74 509.71,118.18 509.92,117.62 510.13,117.06 510.35,116.50 510.56,115.94 510.78,115.38 510.99,114.82 511.21,114.26 511.43,113.70 511.65,113.14 511.86,112.58 512.08,112.03 512.30,111.47 512.52,110.91 512.74,110.35 512.96,109.79 513.19,109.24 513.41,108.68 513.63,108.12 513.86,107.57 514.08,107.01 514.31,106.45 514.53,105.90 514.76,105.34 514.98,104.79 515.21,104.23 515.44,103.68 515.67,103.12 515.90,102.57 516.13,102.02 516.36,101.46 516.59,100.91 516.83,100.36 517.06,99.80 517.29,99.25 517.53,98.70 517.77,98.15 518.01,97.60 518.25,97.05 518.50,96.51 518.76,95.96 519.01,95.42 519.28,94.88 519.55,94.35 519.83,93.82 520.11,93.29 520.40,92.76 520.70,92.25 521.01,91.73 521.33,91.22 521.65,90.72 521.99,90.22 522.33,89.73 522.69,89.25 523.05,88.77 523.42,88.30 523.81,87.84 524.20,87.38 524.60,86.94 525.01,86.50 525.44,86.08 525.87,85.67 526.32,85.27 526.78,84.88 527.25,84.51 527.74,84.16 528.24,83.84 528.76,83.53 529.29,83.25 529.84,83.01 530.40,82.80 530.98,82.64 531.57,82.53 532.16,82.47 532.76,82.47 533.36,82.54 533.95,82.66 534.52,82.83 535.08,83.04 535.63,83.29 536.16,83.57 536.68,83.87 537.18,84.20 537.67,84.54 538.15,84.90 538.62,85.28 539.08,85.66 539.53,86.06 539.97,86.47 540.40,86.88 540.83,87.30 541.26,87.72 541.67,88.16 542.08,88.59 542.49,89.04 542.89,89.48 543.28,89.94 543.67,90.39 544.05,90.86 544.43,91.32 544.80,91.79 545.16,92.27 545.53,92.75 545.88,93.23 546.23,93.71 546.58,94.20 546.93,94.70 547.27,95.19 547.60,95.69 547.93,96.18 548.26,96.69 548.59,97.19 548.92,97.69 549.24,98.20 549.56,98.71 549.88,99.21 550.20,99.72 550.51,100.23 550.83,100.74 551.14,101.25 551.46,101.76 551.77,102.28 552.08,102.79 552.39,103.30 552.71,103.81 553.02,104.33 553.33,104.84 553.63,105.35 553.94,105.87 554.25,106.38 554.56,106.90 554.87,107.41 555.17,107.93 555.48,108.44 555.79,108.96 556.09,109.47 556.40,109.99 556.70,110.51 557.01,111.02 557.31,111.54 557.62,112.06 557.92,112.57 558.22,113.09 558.53,113.61 558.83,114.12 559.14,114.64 559.44,115.16 559.74,115.68 560.05,116.19 560.35,116.71 560.66,117.23 560.96,117.74 561.27,118.26 561.57,118.78 561.88,119.29 562.18,119.81 562.49,120.33 562.79,120.84 563.10,121.36 563.41,121.87 563.71,122.39 564.02,122.90 564.33,123.42 564.64,123.93 564.95,124.45 565.25,124.96 565.56,125.47 565.88,125.99 566.19,126.50 566.50,127.01 566.81,127.52 567.12,128.04 567.44,128.55 567.75,129.06 568.06,129.57 568.38,130.08 568.69,130.59 569.01,131.10 569.33,131.61 569.64,132.12 569.96,132.63 570.28,133.14 570.60,133.64 570.92,134.15 571.24,134.66 571.56,135.17 571.88,135.68 572.20,136.18 572.52,136.69 572.84,137.19 573.16,137.70 573.48,138.21 573.81,138.71 574.13,139.22 574.45,139.72 574.78,140.23 575.10,140.73 575.43,141.24 575.75,141.74 576.08,142.24 576.40,142.75 576.73,143.25 577.06,143.75 577.38,144.25 577.71,144.76 578.04,145.26 578.37,145.76 578.70,146.26 579.03,146.76 579.36,147.27 579.69,147.77 580.02,148.27 580.35,148.77 580.68,149.27 581.01,149.77 581.34,150.27 581.67,150.77 582.00,151.27 582.34,151.77 582.67,152.27 583.00,152.76 583.34,153.26 583.67,153.76 584.00,154.26 584.34,154.76 584.67,155.26 585.01,155.75 585.34,156.25 585.68,156.75 586.01,157.25 586.35,157.74 586.68,158.24 587.02,158.74 587.36,159.23 587.69,159.73 588.03,160.22 588.37,160.72 588.71,161.22 589.04,161.71 589.38,162.21 589.72,162.70 590.06,163.20 590.40,163.69 590.73,164.19 591.07,164.68 591.41,165.18 591.75,165.67 592.09,166.17 592.43,166.66 592.77,167.16 593.11,167.65 593.45,168.14 593.79,168.64 594.13,169.13 594.47,169.63 594.81,170.12 595.15,170.61 595.49,171.11 595.84,171.60 596.18,172.09 596.52,172.59 596.86,173.08 597.20,173.57 597.55,174.06 597.91,174.54 598.27,175.02 598.64,175.49 599.02,175.95 599.42,176.40 599.83,176.84 600.25,177.27 600.68,177.69 601.13,178.09 601.59,178.47 602.07,178.83 602.56,179.17 603.07,179.48 603.61,179.76 604.17,179.98 604.75,180.13 605.34,180.16 605.93,180.06 606.48,179.81 606.96,179.46 607.39,179.04 607.77,178.57 608.11,178.08 608.43,177.57 608.73,177.05 609.00,176.52 609.27,175.98 609.53,175.44 609.78,174.90 610.02,174.35 610.26,173.80 610.49,173.24 610.72,172.69 610.93,172.13 611.15,171.57 611.35,171.00 611.55,170.44 611.75,169.87 611.94,169.30 612.12,168.73 612.30,168.16 612.48,167.59 612.65,167.01 612.82,166.44 612.99,165.86 613.15,165.28 613.31,164.71 613.47,164.13 613.62,163.55 613.77,162.97 613.92,162.38 614.06,161.80 614.21,161.22 614.34,160.64 614.48,160.05 614.61,159.47 614.74,158.88 614.87,158.30 615.00,157.71 615.12,157.12 615.24,156.53 615.36,155.95 615.47,155.36 615.59,154.77 615.70,154.18 615.81,153.59 615.92,153.00 616.02,152.41 616.12,151.82 616.23,151.23 616.33,150.64 616.42,150.04 616.52,149.45 616.61,148.86 616.71,148.27 616.80,147.67 616.89,147.08 616.98,146.49 617.06,145.90 617.15,145.30 617.23,144.71 617.32,144.11 617.40,143.52 617.48,142.93 617.56,142.33 617.64,141.74 617.72,141.14 617.80,140.55 617.87,139.95 617.95,139.36 618.03,138.76 618.10,138.17 618.18,137.57 618.25,136.98 618.32,136.38 618.40,135.79 618.47,135.19 618.54,134.60 618.62,134.00 618.69,133.40 618.76,132.81 618.83,132.21 618.91,131.62 618.98,131.02 619.05,130.43 619.12,129.83 619.20,129.24 619.27,128.64 619.34,128.05 619.42,127.45 619.49,126.86 619.57,126.26 619.64,125.67 619.72,125.07 619.79,124.48 619.87,123.88 619.94,123.29 620.02,122.69 620.10,122.10 620.17,121.50 620.25,120.91 620.33,120.31 620.40,119.72 620.48,119.12 620.56,118.53 620.63,117.93 620.71,117.34 620.79,116.74 620.86,116.15 620.94,115.55 621.02,114.96 621.09,114.36 621.17,113.77 621.25,113.17 621.32,112.58 621.40,111.98 621.47,111.39 621.55,110.79 621.62,110.20 621.70,109.60 621.77,109.01 621.85,108.41 621.92,107.82 622.00,107.22 622.07,106.63 622.14,106.03 622.22,105.44 622.29,104.84 622.36,104.25 622.43,103.65 622.50,103.05 622.57,102.46 622.64,101.86 622.71,101.27 622.78,100.67 622.85,100.08 622.92,99.48 622.99,98.88 623.05,98.29 623.12,97.69 623.18,97.10 623.25,96.50 623.31,95.90 623.37,95.31 623.44,94.71 623.50,94.11 623.56,93.52 623.62,92.92 623.68,92.32 623.74,91.73 623.80,91.13 623.85,90.53 623.91,89.93 623.96,89.34 624.02,88.74 624.07,88.14 624.12,87.55 624.17,86.95 624.22,86.35 624.27,85.75 624.32,85.15 624.37,84.56 624.42,83.96 624.46,83.36 624.51,82.76 624.55,82.16 624.60,81.57 624.64,80.97 624.69,80.37 624.73,79.77 624.77,79.17 624.82,78.58 624.86,77.98 624.90,77.38 624.94,76.78 624.98,76.18 625.02,75.58 625.06,74.98 625.11,74.39 625.15,73.79 625.19,73.19 625.23,72.59 625.27,71.99 625.31,71.39 625.35,70.80 625.39,70.20 625.43,69.60 625.47,69.00 625.51,68.40 625.56,67.80 625.60,67.21 625.64,66.61 625.68,66.01 625.73,65.41 625.77,64.81 625.82,64.21 625.86,63.62 625.91,63.02 625.95,62.42 626.00,61.82 626.05,61.22 626.10,60.63 626.14,60.03 626.19,59.43 626.25,58.83 626.30,58.24 626.35,57.64 626.40,57.04 626.46,56.44 626.51,55.85 626.57,55.25 626.63,54.65 626.69,54.06 626.75,53.46 626.81,52.86 626.87,52.27 626.93,51.67 627.00,51.07 627.06,50.48 627.13,49.88 627.20,49.29 627.27,48.69 627.34,48.09 627.42,47.50 627.49,46.90 627.57,46.31 627.65,45.71 627.72,45.12 627.80,44.53 627.89,43.93 627.97,43.34 628.05,42.74 628.14,42.15 628.22,41.56 628.31,40.96 628.40,40.37 628.49,39.78 628.58,39.18 628.67,38.59 628.76,38.00 628.86,37.41 628.95,36.81 629.05,36.22 629.15,35.63 629.24,35.04 629.34,34.45 629.44,33.85 629.54,33.26 629.64,32.67 629.75,32.08 629.85,31.49 629.95,30.90 630.06,30.31 630.16,29.72 630.27,29.13 630.38,28.54 630.49,27.95 630.62,27.36 630.77,26.78 630.95,26.21 631.16,25.65 631.41,25.10 631.70,24.58 632.02,24.07 632.39,23.60 632.80,23.16 633.28,22.80 633.85,22.65 634.39,22.90 634.78,23.35 635.09,23.86 635.36,24.40 635.60,24.95 635.82,25.51 636.03,26.07 636.21,26.64 636.38,27.22 636.53,27.80 636.67,28.38 636.81,28.97 636.94,29.55 637.06,30.14 637.18,30.73 637.30,31.32 637.41,31.90 637.53,32.49 637.63,33.08 637.74,33.67 637.84,34.26 637.94,34.86 638.04,35.45 638.14,36.04 638.24,36.63 638.33,37.22 638.42,37.82 638.52,38.41 638.61,39.00 638.70,39.59 638.79,40.19 638.87,40.78 638.96,41.37 639.05,41.97 639.14,42.56 639.22,43.15 639.31,43.75 639.39,44.34 639.47,44.94 639.56,45.53 639.64,46.12 639.72,46.72 639.80,47.31 639.88,47.91 639.96,48.50 640.04,49.10 640.12,49.69 640.19,50.29 640.27,50.88 640.34,51.48 640.42,52.07 640.49,52.67 640.57,53.26 640.64,53.86 640.71,54.45 640.78,55.05 640.85,55.64 640.92,56.24 640.99,56.84 641.06,57.43 641.13,58.03 641.19,58.62 641.26,59.22 641.33,59.82 641.39,60.41 641.46,61.01 641.52,61.60 641.58,62.20 641.64,62.80 641.71,63.39 641.77,63.99 641.83,64.59 641.89,65.18 641.95,65.78 642.01,66.38 642.07,66.97 642.13,67.57 642.19,68.17 642.25,68.77 642.30,69.36 642.36,69.96 642.42,70.56 642.48,71.15 642.54,71.75 642.59,72.35 642.65,72.94 642.71,73.54 642.77,74.14 642.82,74.74 642.88,75.33 642.94,75.93 643.00,76.53 643.06,77.12 643.12,77.72 643.17,78.32 643.23,78.91 643.29,79.51 643.35,80.11 643.41,80.70 643.47,81.30 643.53,81.90 643.59,82.49 643.65,83.09 643.72,83.69 643.78,84.28 643.84,84.88 643.90,85.48 643.97,86.07 644.03,86.67 644.10,87.27 644.16,87.86 644.23,88.46 644.30,89.05 644.37,89.65 644.44,90.25 644.51,90.84 644.58,91.44 644.65,92.03 644.72,92.63 644.79,93.22 644.87,93.82 644.94,94.41 645.02,95.01 645.10,95.60 645.18,96.20 645.26,96.79 645.34,97.39 645.42,97.98 645.50,98.57 645.59,99.17 645.67,99.76 645.76,100.36 645.85,100.95 645.94,101.54 646.03,102.13 646.13,102.73 646.22,103.32 646.32,103.91 646.42,104.50 646.52,105.09 646.62,105.68 646.73,106.27 646.83,106.87 646.94,107.45 647.05,108.04 647.17,108.63 647.28,109.22 647.40,109.81 647.52,110.40 647.64,110.98 647.77,111.57 647.89,112.16 648.02,112.74 648.16,113.33 648.29,113.91 648.43,114.50 648.57,115.08 648.71,115.66 648.86,116.24 649.01,116.83 649.16,117.41 649.31,117.99 649.47,118.56 649.63,119.14 649.79,119.72 649.96,120.30 650.13,120.87 650.30,121.45 650.48,122.02 650.66,122.59 650.84,123.16 651.02,123.73 651.21,124.30 651.41,124.87 651.61,125.43 651.82,126.00 652.04,126.55 652.26,127.11 652.50,127.66 652.75,128.21 653.01,128.75 653.28,129.28 653.57,129.81 653.87,130.32 654.19,130.83 654.53,131.33 654.88,131.81 655.25,132.28 655.64,132.74 656.05,133.18 656.47,133.60 656.92,134.01 657.38,134.40 657.85,134.76 658.34,135.11" stroke="#ff7f0e"/>
<path d="M136.30,89.41 136.34,90.01 136.37,90.60 136.41,91.20 136.44,91.80 136.47,92.40 136.50,93.00 136.52,93.60 136.55,94.20 136.57,94.80 136.60,95.39 136.62,95.99 136.64,96.59 136.66,97.19 136.68,97.79 136.70,98.39 136.73,98.99 136.75,99.59 136.77,100.19 136.80,100.79 136.82,101.38 136.85,101.98 136.88,102.58 136.92,103.18 136.95,103.78 136.99,104.38 137.03,104.98 137.07,105.57 137.12,106.17 137.17,106.77 137.22,107.37 137.28,107.96 137.34,108.56 137.40,109.15 137.47,109.75 137.54,110.34 137.63,110.94 137.75,111.52 138.10,111.65 138.34,111.10 138.51,110.53 138.67,109.95 138.80,109.36 138.92,108.78 139.04,108.19 139.14,107.60 139.25,107.01 139.35,106.42 139.46,105.83 139.58,105.24 139.71,104.66 139.85,104.07 140.00,103.49 140.17,102.92 140.37,102.35 140.59,101.79 140.85,101.25 141.16,100.75 141.57,100.30 142.07,99.98 142.64,99.79 143.23,99.72 143.83,99.74 144.42,99.83 145.00,99.97 145.57,100.15 146.13,100.38 146.67,100.63 147.20,100.92 147.71,101.23 148.21,101.56 148.70,101.91 149.17,102.28 149.64,102.65 150.10,103.04 150.55,103.43 151.00,103.83 151.45,104.23 151.90,104.63 152.35,105.02 152.80,105.41 153.26,105.80 153.72,106.17 154.20,106.54 154.69,106.89 155.18,107.22 155.69,107.54 156.22,107.83 156.75,108.11 157.29,108.37 157.84,108.61 158.39,108.83 158.96,109.04 159.52,109.24 160.09,109.42 160.67,109.59 161.25,109.74 161.83,109.89 162.41,110.02 163.00,110.15 163.59,110.27 164.17,110.39 164.76,110.49 165.35,110.60 165.95,110.70 166.54,110.79 167.13,110.88 167.72,110.97 168.32,111.05 168.91,111.13 169.51,111.21 170.10,111.28 170.70,111.35 171.29,111.41 171.89,111.47 172.48,111.53 173.08,111.59 173.68,111.64 174.28,111.69 174.87,111.74 175.47,111.78 176.07,111.82 176.67,111.86 177.27,111.90 177.86,111.93 178.46,111.97 179.06,112.00 179.66,112.03 180.26,112.05 180.86,112.08 181.46,112.10 182.06,112.12 182.65,112.14 183.25,112.16 183.85,112.18 184.45,112.20 185.05,112.21 185.65,112.23 186.25,112.24 186.85,112.26 187.45,112.27 188.05,112.28 188.65,112.29 189.25,112.31 189.85,112.32 190.44,112.33 191.04,112.34 191.64,112.35 192.24,112.37 192.84,112.38 193.44,112.39 194.04,112.41 194.64,112.42 195.24,112.44 195.84,112.45 196.44,112.47 197.04,112.49 197.64,112.51 198.23,112.53 198.83,112.55 199.43,112.57 200.03,112.59 200.63,112.62 201.23,112.64 201.83,112.66 202.43,112.69 203.03,112.71 203.62,112.74 204.22,112.76 204.82,112.79 205.42,112.81 206.02,112.84 206.62,112.86 207.22,112.89 207.82,112.92 208.42,112.95 209.01,112.97 209.61,113.00 210.21,113.03 210.81,113.05 211.41,113.08 212.01,113.11 212.61,113.13 213.21,113.16 213.80,113.19 214.40,113.21 215.00,113.24 215.60,113.26 216.20,113.29 216.80,113.31 217.40,113.34 218.00,113.36 218.60,113.39 219.19,113.41 219.79,113.43 220.39,113.45 220.99,113.47 221.59,113.49 222.19,113.51 222.79,113.53 223.39,113.55 223.99,113.57 224.59,113.58 225.19,113.60 225.79,113.61 226.38,113.63 226.98,113.64 227.58,113.65 228.18,113.66 228.78,113.67 229.38,113.68 229.98,113.69 230.58,113.70 231.18,113.71 231.78,113.71 232.38,113.72 232.98,113.72 233.58,113.73 234.18,113.73 234.78,113.73 235.37,113.73 235.97,113.73 236.57,113.73 237.17,113.73 237.77,113.73 238.37,113.73 238.97,113.73 239.57,113.73 240.17,113.72 240.77,113.72 241.37,113.72 241.97,113.71 242.57,113.70 243.17,113.70 243.77,113.69 244.37,113.69 244.97,113.68 245.56,113.67 246.16,113.66 246.76,113.65 247.36,113.64 247.96,113.64 248.56,113.63 249.16,113.62 249.76,113.60 250.36,113.59 250.96,113.58 251.56,113.57 252.16,113.56 252.76,113.55 253.36,113.54 253.95,113.52 254.55,113.51 255.15,113.50 255.75,113.49 256.35,113.47 256.95,113.46 257.55,113.45 258.15,113.43 258.75,113.42 259.35,113.40 259.95,113.39 260.55,113.38 261.15,113.36 261.75,113.35 262.34,113.33 262.94,113.32 263.54,113.31 264.14,113.29 264.74,113.28 265.34,113.26 265.94,113.25 266.54,113.24 267.14,113.22 267.74,113.21 268.34,113.19 268.94,113.18 269.54,113.17 270.13,113.15 270.73,113.14 271.33,113.13 271.93,113.12 272.53,113.10 273.13,113.09 273.73,113.08 274.33,113.07 274.93,113.06 275.53,113.05 276.13,113.04 276.73,113.03 277.33,113.02 277.93,113.01 278.53,113.00 279.12,112.99 279.72,112.98 280.32,112.97 280.92,112.96 281.52,112.96 282.12,112.95 282.72,112.94 283.32,112.94 283.92,112.93 284.52,112.93 285.12,112.92 285.72,112.92 286.32,112.92 286.92,112.91 287.52,112.91 288.12,112.91 288.71,112.91 289.31,112.91 289.91,112.91 290.51,112.91 291.11,112.92 291.71,112.92 292.31,112.92 292.91,112.93 293.51,112.93 294.11,112.94 294.71,112.94 295.31,112.95 295.91,112.96 296.51,112.97 297.11,112.98 297.71,112.99 298.30,113.00 298.90,113.01 299.50,113.02 300.10,113.03 300.70,113.05 301.30,113.06 301.90,113.08 302.50,113.09 303.10,113.11 303.70,113.13 304.30,113.14 304.90,113.16 305.50,113.18 306.09,113.20 306.69,113.22 307.29,113.24 307.89,113.26 308.49,113.28 309.09,113.30 309.69,113.32 310.29,113.35 310.89,113.37 311.49,113.39 312.08,113.42 312.68,113.44 313.28,113.46 313.88,113.49 314.48,113.51 315.08,113.54 315.68,113.56 316.28,113.59 316.88,113.62 317.47,113.64 318.07,113.67 318.67,113.70 319.27,113.72 319.87,113.75 320.47,113.78 321.07,113.81 321.67,113.83 322.26,113.86 322.86,113.89 323.46,113.92 324.06,113.94 324.66,113.97 325.26,114.00 325.86,114.03 326.46,114.06 327.05,114.08 327.65,114.11 328.25,114.14 328.85,114.17 329.45,114.20 330.05,114.22 330.65,114.25 331.25,114.28 331.84,114.31 332.44,114.34 333.04,114.36 333.64,114.39 334.24,114.42 334.84,114.44 335.44,114.47 336.04,114.50 336.64,114.52 337.23,114.55 337.83,114.57 338.43,114.60 339.03,114.63 339.63,114.65 340.23,114.67 340.83,114.70 341.43,114.72 342.03,114.75 342.62,114.77 343.22,114.79 343.82,114.81 344.42,114.84 345.02,114.86 345.62,114.88 346.22,114.90 346.82,114.92 347.42,114.94 348.02,114.96 348.61,114.97 349.21,114.99 349.81,115.01 350.41,115.03 351.01,115.04 351.61,115.06 352.21,115.07 352.81,115.09 353.41,115.10 354.01,115.11 354.61,115.12 355.21,115.14 355.81,115.15 356.40,115.16 357.00,115.17 357.60,115.17 358.20,115.18 358.80,115.19 359.40,115.19 360.00,115.20 360.60,115.20 361.20,115.21 361.80,115.21 362.40,115.21 363.00,115.21 363.60,115.21 364.20,115.21 364.80,115.21 365.40,115.21 366.00,115.20 366.59,115.20 367.19,115.19 367.79,115.19 368.39,115.18 368.99,115.17 369.59,115.16 370.19,115.15 370.79,115.14 371.39,115.13 371.99,115.11 372.59,115.10 373.19,115.08 373.79,115.07 374.39,115.05 374.98,115.04 375.58,115.02 376.18,115.00 376.78,114.98 377.38,114.96 377.98,114.94 378.58,114.91 379.18,114.89 379.78,114.87 380.38,114.84 380.97,114.82 381.57,114.79 382.17,114.76 382.77,114.73 383.37,114.71 383.97,114.68 384.57,114.65 385.17,114.62 385.76,114.58 386.36,114.55 386.96,114.52 387.56,114.49 388.16,114.45 388.76,114.42 389.35,114.38 389.95,114.34 390.55,114.31 391.15,114.27 391.75,114.23 392.35,114.19 392.94,114.15 393.54,114.11 394.14,114.07 394.74,114.03 395.34,113.99 395.93,113.94 396.53,113.90 397.13,113.86 397.73,113.81 398.32,113.77 398.92,113.72 399.52,113.68 400.12,113.63 400.72,113.58 401.31,113.53 401.91,113.48 402.51,113.44 403.11,113.39 403.70,113.34 404.30,113.29 404.90,113.23 405.49,113.18 406.09,113.13 406.69,113.08 407.29,113.03 407.88,112.97 408.48,112.92 409.08,112.86 409.67,112.81 410.27,112.76 410.87,112.70 411.46,112.64 412.06,112.59 412.66,112.53 413.25,112.47 413.85,112.42 414.45,112.36 415.04,112.30 415.64,112.24 416.24,112.18 416.83,112.12 417.43,112.06 418.03,112.00 418.62,111.94 419.22,111.88 419.82,111.82 420.41,111.76 421.01,111.70 421.60,111.64 422.20,111.57 422.80,111.51 423.39,111.45 423.99,111.38 424.58,111.32 425.18,111.26 425.78,111.19 426.37,111.13 426.97,111.06 427.56,111.00 428.16,110.94 428.76,110.87 429.35,110.80 429.95,110.74 430.54,110.67 431.14,110.61 431.73,110.54 432.33,110.48 432.93,110.41 433.52,110.34 434.12,110.28 434.71,110.21 435.31,110.14 435.90,110.07 436.50,110.01 437.10,109.94 437.69,109.87 438.29,109.81 438.88,109.74 439.48,109.67 440.07,109.60 440.67,109.53 441.26,109.47 441.86,109.40 442.46,109.33 443.05,109.26 443.65,109.20 444.24,109.13 444.84,109.06 445.43,109.00 446.03,108.93 446.63,108.86 447.22,108.80 447.82,108.74 448.41,108.67 449.01,108.61 449.61,108.55 450.20,108.49 450.80,108.43 451.40,108.37 451.99,108.31 452.59,108.26 453.19,108.20 453.78,108.15 454.38,108.10 454.98,108.04 455.57,108.00 456.17,107.95 456.77,107.90 457.37,107.86 457.97,107.81 458.56,107.77 459.16,107.73 459.76,107.70 460.36,107.66 460.96,107.63 461.56,107.60 462.15,107.57 462.75,107.54 463.35,107.52 463.95,107.50 464.55,107.48 465.15,107.46 465.75,107.45 466.35,107.43 466.95,107.42 467.55,107.42 468.15,107.41 468.75,107.41 469.34,107.42 469.94,107.42 470.54,107.43 471.14,107.45 471.74,107.46 472.34,107.48 472.94,107.51 473.54,107.53 474.14,107.57 474.74,107.60 475.33,107.64 475.93,107.69 476.53,107.73 477.13,107.79 477.72,107.85 478.32,107.91 478.91,107.98 479.51,108.05 480.10,108.13 480.70,108.21 481.29,108.30 481.88,108.39 482.47,108.49 483.06,108.60 483.65,108.71 484.24,108.82 484.83,108.95 485.41,109.08 486.00,109.21 486.58,109.35 487.16,109.50 487.74,109.65 488.32,109.81 488.89,109.97 489.47,110.14 490.04,110.32 490.61,110.50 491.18,110.69 491.75,110.89 492.31,111.08 492.88,111.29 493.44,111.50 494.00,111.72 494.55,111.94 495.11,112.17 495.66,112.40 496.21,112.64 496.76,112.88 497.30,113.13 497.85,113.38 498.39,113.64 498.92,113.91 499.46,114.18 499.99,114.45 500.52,114.73 501.05,115.02 501.58,115.31 502.10,115.60 502.62,115.89 503.14,116.19 503.66,116.48 504.18,116.78 504.70,117.08 505.22,117.38 505.74,117.68 506.27,117.97 506.79,118.26 507.31,118.55 507.84,118.84 508.37,119.12 508.90,119.40 509.43,119.67 509.97,119.94 510.51,120.20 511.05,120.45 511.60,120.70 512.15,120.94 512.70,121.17 513.26,121.40 513.82,121.62 514.38,121.83 514.94,122.03 515.51,122.23 516.07,122.42 516.64,122.61 517.22,122.78 517.79,122.95 518.37,123.12 518.95,123.27 519.53,123.42 520.11,123.56 520.70,123.69 521.28,123.82 521.87,123.94 522.46,124.05 523.05,124.15 523.64,124.25 524.23,124.34 524.83,124.42 525.42,124.49 526.02,124.56 526.61,124.62 527.21,124.67 527.81,124.71 528.41,124.75 529.01,124.77 529.61,124.79 530.20,124.81 530.80,124.81 531.40,124.81 532.00,124.80 532.60,124.78 533.20,124.75 533.80,124.72 534.40,124.67 534.99,124.62 535.59,124.56 536.19,124.50 536.78,124.42 537.37,124.34 537.97,124.26 538.56,124.16 539.15,124.06 539.74,123.95 540.33,123.84 540.92,123.73 541.50,123.60 542.09,123.48 542.67,123.34 543.26,123.21 543.84,123.07 544.42,122.92 545.00,122.78 545.58,122.62 546.16,122.47 546.74,122.31 547.32,122.15 547.90,121.99 548.47,121.83 549.05,121.66 549.63,121.50 550.20,121.33 550.78,121.16 551.35,120.99 551.92,120.82 552.50,120.64 553.07,120.47 553.65,120.30 554.22,120.13 554.80,119.96 555.37,119.79 555.94,119.62 556.52,119.44 557.09,119.27 557.67,119.10 558.24,118.93 558.82,118.76 559.39,118.59 559.97,118.42 560.54,118.26 561.12,118.09 561.69,117.92 562.27,117.75 562.85,117.59 563.42,117.42 564.00,117.25 564.57,117.09 565.15,116.92 565.73,116.76 566.30,116.60 566.88,116.44 567.46,116.28 568.04,116.11 568.61,115.96 569.19,115.80 569.77,115.64 570.35,115.48 570.93,115.33 571.51,115.17 572.09,115.02 572.66,114.86 573.24,114.71 573.82,114.56 574.40,114.41 574.98,114.26 575.56,114.11 576.14,113.96 576.72,113.80 577.31,113.65 577.89,113.50 578.47,113.36 579.05,113.21 579.63,113.06 580.21,112.91 580.79,112.76 581.37,112.61 581.95,112.45 582.53,112.30 583.11,112.15 583.69,112.00 584.27,111.85 584.85,111.70 585.43,111.54 586.01,111.39 586.59,111.23 587.16,111.08 587.74,110.92 588.32,110.76 588.90,110.61 589.48,110.45 590.05,110.29 590.63,110.13 591.21,109.96 591.79,109.80 592.36,109.64 592.94,109.48 593.52,109.33 594.10,109.17 594.68,109.02 595.26,108.88 595.84,108.74 596.43,108.60 597.01,108.47 597.60,108.35 598.19,108.24 598.78,108.14 599.37,108.04 599.97,107.96 600.56,107.89 601.16,107.83 601.75,107.78 602.35,107.75 602.95,107.73 603.55,107.72 604.15,107.74 604.75,107.76 605.35,107.81 605.94,107.87 606.54,107.95 607.13,108.04 607.72,108.16 608.30,108.29 608.88,108.43 609.46,108.60 610.03,108.78 610.60,108.98 611.15,109.21 611.70,109.45 612.24,109.71 612.77,109.99 613.29,110.29 613.79,110.62 614.28,110.96 614.75,111.33 615.21,111.72 615.65,112.13 616.07,112.55 616.48,112.99 616.87,113.44 617.25,113.91 617.62,114.38 617.98,114.86 618.32,115.35 618.66,115.85 618.99,116.35 619.32,116.85 619.64,117.36 619.96,117.86 620.27,118.37 620.59,118.88 620.90,119.39 621.21,119.91 621.52,120.42 621.83,120.93 622.14,121.45 622.45,121.96 622.75,122.48 623.06,122.99 623.36,123.51 623.67,124.03 623.97,124.54 624.27,125.06 624.58,125.58 624.88,126.09 625.19,126.61 625.49,127.13 625.80,127.64 626.12,128.15 626.44,128.65 626.77,129.15 627.11,129.64 627.47,130.13 627.84,130.60 628.22,131.06 628.61,131.52 629.02,131.95 629.45,132.37 629.90,132.77 630.37,133.14 630.86,133.48 631.39,133.77 631.94,134.01 632.51,134.17 633.11,134.24 633.70,134.21 634.29,134.09 634.85,133.89 635.39,133.63 635.91,133.32 636.40,132.97 636.86,132.59 637.30,132.19 637.72,131.76 638.12,131.31 638.49,130.84 638.85,130.36 639.18,129.86 639.49,129.35 639.79,128.83 640.08,128.31 640.37,127.78 640.66,127.25 640.95,126.73 641.25,126.21 641.56,125.70 641.89,125.20 642.23,124.70 642.58,124.22 642.94,123.74 643.31,123.27 643.70,122.81 644.09,122.36 644.50,121.92 644.92,121.49 645.35,121.08 645.79,120.67 646.25,120.28 646.71,119.90 647.19,119.54 647.67,119.19 648.17,118.85 648.68,118.53 649.19,118.23 649.72,117.94 650.25,117.66 650.79,117.40 651.34,117.16 651.90,116.93 652.46,116.72 653.02,116.53 653.60,116.35 654.17,116.19 654.75,116.04 655.34,115.91 655.93,115.80 656.52,115.70 657.11,115.62 657.71,115.56 658.31,115.51" stroke="#2ca02c"/>
</g>
<rect x="593.1" y="17.30" width="84.1" height="62.8" rx="2" ry="2" fill="#fff" fill-opacity="0.8" stroke="#cccccc" stroke-opacity="0.8" stroke-width="1.25"/>
<path d="M597.8,28.20H625.9" stroke="#1f77b4" stroke-width="1.8"/>
<text x="636.4" y="33.10" class="lg" textLength="34.5" lengthAdjust="spacingAndGlyphs">cell 1</text>
<path d="M597.8,47.90H625.9" stroke="#ff7f0e" stroke-width="1.8"/>
<text x="636.4" y="52.80" class="lg" textLength="34.5" lengthAdjust="spacingAndGlyphs">cell 2</text>
<path d="M597.8,67.60H625.9" stroke="#2ca02c" stroke-width="1.8"/>
<text x="636.4" y="72.50" class="lg" textLength="34.5" lengthAdjust="spacingAndGlyphs">cell 3</text>
<path d="M136.50,284.40V287.80 M208.99,284.40V287.80 M281.47,284.40V287.80 M353.95,284.40V287.80 M426.44,284.40V287.80 M498.92,284.40V287.80 M571.41,284.40V287.80 M643.89,284.40V287.80 M107.10,38.50H110.50 M107.10,80.35H110.50 M107.10,122.20H110.50 M107.10,164.00H110.50 M107.10,205.90H110.50 M107.10,247.70H110.50" stroke="#111" stroke-width="1.0" fill="none"/>
<rect x="110.50" y="10.50" width="573.80" height="273.90" fill="none" stroke="#1a1a1a" stroke-width="1.05"/>
<text x="136.50" y="298.20" text-anchor="middle" class="tk" textLength="6.00" lengthAdjust="spacingAndGlyphs">0</text>
<text x="208.99" y="298.20" text-anchor="middle" class="tk" textLength="18.00" lengthAdjust="spacingAndGlyphs">500</text>
<text x="281.47" y="298.20" text-anchor="middle" class="tk" textLength="24.00" lengthAdjust="spacingAndGlyphs">1000</text>
<text x="353.95" y="298.20" text-anchor="middle" class="tk" textLength="24.00" lengthAdjust="spacingAndGlyphs">1500</text>
<text x="426.44" y="298.20" text-anchor="middle" class="tk" textLength="24.00" lengthAdjust="spacingAndGlyphs">2000</text>
<text x="498.92" y="298.20" text-anchor="middle" class="tk" textLength="24.00" lengthAdjust="spacingAndGlyphs">2500</text>
<text x="571.41" y="298.20" text-anchor="middle" class="tk" textLength="24.00" lengthAdjust="spacingAndGlyphs">3000</text>
<text x="643.89" y="298.20" text-anchor="middle" class="tk" textLength="24.00" lengthAdjust="spacingAndGlyphs">3500</text>
<text x="103.50" y="41.95" text-anchor="end" class="tk" textLength="27.30" lengthAdjust="spacingAndGlyphs">−1.65</text>
<text x="103.50" y="83.80" text-anchor="end" class="tk" textLength="27.30" lengthAdjust="spacingAndGlyphs">−1.66</text>
<text x="103.50" y="125.65" text-anchor="end" class="tk" textLength="27.30" lengthAdjust="spacingAndGlyphs">−1.67</text>
<text x="103.50" y="167.45" text-anchor="end" class="tk" textLength="27.30" lengthAdjust="spacingAndGlyphs">−1.68</text>
<text x="103.50" y="209.35" text-anchor="end" class="tk" textLength="27.30" lengthAdjust="spacingAndGlyphs">−1.69</text>
<text x="103.50" y="251.15" text-anchor="end" class="tk" textLength="27.30" lengthAdjust="spacingAndGlyphs">−1.70</text>
<text x="397.4" y="314.90" text-anchor="middle" class="al" textLength="66" lengthAdjust="spacingAndGlyphs">Time (s)</text>
<text transform="translate(69.80,147.45) rotate(-90)" text-anchor="middle" class="al" textLength="88.4" lengthAdjust="spacingAndGlyphs">Current (A)</text>
<path d="M136.50,328.50V602.20 M208.99,328.50V602.20 M281.47,328.50V602.20 M353.95,328.50V602.20 M426.44,328.50V602.20 M498.92,328.50V602.20 M571.41,328.50V602.20 M643.89,328.50V602.20 M110.50,340.85H684.30 M110.50,390.62H684.30 M110.50,440.39H684.30 M110.50,490.16H684.30 M110.50,539.93H684.30 M110.50,589.70H684.30" stroke="#b2b2b2" stroke-width="1.1" fill="none"/>
<g fill="none" stroke-width="1.60">
<path d="M136.50,340.75L658.39,589.60" stroke="#1f77b4"/>
<path d="M136.50,341.15L658.39,590.00" stroke="#ff7f0e"/>
<path d="M136.50,340.85L658.39,589.70" stroke="#2ca02c"/>
</g>
<rect x="593.1" y="335.50" width="84.1" height="62.8" rx="2" ry="2" fill="#fff" fill-opacity="0.8" stroke="#cccccc" stroke-opacity="0.8" stroke-width="1.25"/>
<path d="M597.8,346.40H625.9" stroke="#1f77b4" stroke-width="1.8"/>
<text x="636.4" y="351.30" class="lg" textLength="34.5" lengthAdjust="spacingAndGlyphs">cell 1</text>
<path d="M597.8,366.10H625.9" stroke="#ff7f0e" stroke-width="1.8"/>
<text x="636.4" y="371.00" class="lg" textLength="34.5" lengthAdjust="spacingAndGlyphs">cell 2</text>
<path d="M597.8,385.80H625.9" stroke="#2ca02c" stroke-width="1.8"/>
<text x="636.4" y="390.70" class="lg" textLength="34.5" lengthAdjust="spacingAndGlyphs">cell 3</text>
<path d="M136.50,602.20V605.60 M208.99,602.20V605.60 M281.47,602.20V605.60 M353.95,602.20V605.60 M426.44,602.20V605.60 M498.92,602.20V605.60 M571.41,602.20V605.60 M643.89,602.20V605.60 M107.10,340.85H110.50 M107.10,390.62H110.50 M107.10,440.39H110.50 M107.10,490.16H110.50 M107.10,539.93H110.50 M107.10,589.70H110.50" stroke="#111" stroke-width="1.0" fill="none"/>
<rect x="110.50" y="328.50" width="573.80" height="273.70" fill="none" stroke="#1a1a1a" stroke-width="1.05"/>
<text x="136.50" y="616.20" text-anchor="middle" class="tk" textLength="6.00" lengthAdjust="spacingAndGlyphs">0</text>
<text x="208.99" y="616.20" text-anchor="middle" class="tk" textLength="18.00" lengthAdjust="spacingAndGlyphs">500</text>
<text x="281.47" y="616.20" text-anchor="middle" class="tk" textLength="24.00" lengthAdjust="spacingAndGlyphs">1000</text>
<text x="353.95" y="616.20" text-anchor="middle" class="tk" textLength="24.00" lengthAdjust="spacingAndGlyphs">1500</text>
<text x="426.44" y="616.20" text-anchor="middle" class="tk" textLength="24.00" lengthAdjust="spacingAndGlyphs">2000</text>
<text x="498.92" y="616.20" text-anchor="middle" class="tk" textLength="24.00" lengthAdjust="spacingAndGlyphs">2500</text>
<text x="571.41" y="616.20" text-anchor="middle" class="tk" textLength="24.00" lengthAdjust="spacingAndGlyphs">3000</text>
<text x="643.89" y="616.20" text-anchor="middle" class="tk" textLength="24.00" lengthAdjust="spacingAndGlyphs">3500</text>
<text x="104.00" y="344.30" text-anchor="end" class="tk" textLength="14.20" lengthAdjust="spacingAndGlyphs">1.0</text>
<text x="104.00" y="394.07" text-anchor="end" class="tk" textLength="14.20" lengthAdjust="spacingAndGlyphs">0.8</text>
<text x="104.00" y="443.84" text-anchor="end" class="tk" textLength="14.20" lengthAdjust="spacingAndGlyphs">0.6</text>
<text x="104.00" y="493.61" text-anchor="end" class="tk" textLength="14.20" lengthAdjust="spacingAndGlyphs">0.4</text>
<text x="104.00" y="543.38" text-anchor="end" class="tk" textLength="14.20" lengthAdjust="spacingAndGlyphs">0.2</text>
<text x="104.00" y="593.15" text-anchor="end" class="tk" textLength="14.20" lengthAdjust="spacingAndGlyphs">0.0</text>
<text x="397.4" y="632.90" text-anchor="middle" class="al" textLength="66" lengthAdjust="spacingAndGlyphs">Time (s)</text>
<text transform="translate(83.00,465.35) rotate(-90)" text-anchor="middle" class="al" textLength="146.8" lengthAdjust="spacingAndGlyphs">State of charge (-)</text>
<rect x="128.60" y="467.50" width="228.00" height="126.90" fill="#fff"/>
<path d="M147.00,467.50V589.60 M186.86,467.50V589.60 M226.72,467.50V589.60 M266.58,467.50V589.60 M306.44,467.50V589.60 M346.30,467.50V589.60 M136.50,486.60H356.60 M136.50,505.58H356.60 M136.50,524.56H356.60 M136.50,543.54H356.60 M136.50,562.52H356.60 M136.50,581.50H356.60" stroke="#ebebeb" stroke-width="0.8" fill="none"/>
<path d="M136.5,467.50V589.4" stroke="#c4c4c4" stroke-width="1.0" fill="none"/>
<path d="M136.5,589.4H356.60" stroke="#e2e2e2" stroke-width="0.9" fill="none"/>
<rect x="131.0" y="485.70" width="5.6" height="1.8" rx="0.6" fill="#999999"/>
<rect x="131.0" y="504.68" width="5.6" height="1.8" rx="0.6" fill="#999999"/>
<rect x="131.0" y="523.66" width="5.6" height="1.8" rx="0.6" fill="#999999"/>
<rect x="131.0" y="542.64" width="5.6" height="1.8" rx="0.6" fill="#999999"/>
<rect x="131.0" y="561.62" width="5.6" height="1.8" rx="0.6" fill="#999999"/>
<rect x="131.0" y="580.60" width="5.6" height="1.8" rx="0.6" fill="#999999"/>
<rect x="144.90" y="590.85" width="1.6" height="1.1" fill="#777"/>
<rect x="147.00" y="590.85" width="2.1" height="1.1" fill="#555"/>
<rect x="184.76" y="590.85" width="1.6" height="1.1" fill="#777"/>
<rect x="186.86" y="590.85" width="2.1" height="1.1" fill="#555"/>
<rect x="224.62" y="590.85" width="1.6" height="1.1" fill="#777"/>
<rect x="226.72" y="590.85" width="2.1" height="1.1" fill="#555"/>
<rect x="264.48" y="590.85" width="1.6" height="1.1" fill="#777"/>
<rect x="266.58" y="590.85" width="2.1" height="1.1" fill="#555"/>
<rect x="304.34" y="590.85" width="1.6" height="1.1" fill="#777"/>
<rect x="306.44" y="590.85" width="2.1" height="1.1" fill="#555"/>
<rect x="344.20" y="590.85" width="1.6" height="1.1" fill="#777"/>
<rect x="346.30" y="590.85" width="2.1" height="1.1" fill="#555"/>
<g fill="none" stroke-width="1.1" stroke-opacity="0.62">
<path d="M147.2,475.5L345.0,579.6" stroke="#1f77b4"/>
<path d="M147.2,477.1L345.6,581.5" stroke="#2ca02c"/>
<path d="M147.0,479.6L345.6,584.5" stroke="#ff7f0e"/>
</g>
<rect x="128.60" y="467.50" width="228.00" height="126.90" fill="none" stroke="#000" stroke-width="2.7"/>
<rect x="384.6" y="457.3" width="13.9" height="10.0" fill="none" stroke="#000" stroke-width="2.3"/>
<path d="M128.60,467.50L384.6,457.3M398.5,467.3L356.60,594.40" stroke="#000" stroke-width="2.4" fill="none"/>
<text transform="translate(-1.80,154.80) scale(0.873,1)" class="pl">(</text>
<text transform="translate(10.87,154.80) scale(0.894,1)" class="pl">a</text>
<text transform="translate(34.64,154.80) scale(0.881,1)" class="pl">)</text>
<text transform="translate(-1.80,475.70) scale(0.873,1)" class="pl">(</text>
<text transform="translate(10.10,475.70) scale(1.040,1)" class="pl">b</text>
<text transform="translate(34.64,475.70) scale(0.881,1)" class="pl">)</text>
</svg>
</body></html>
